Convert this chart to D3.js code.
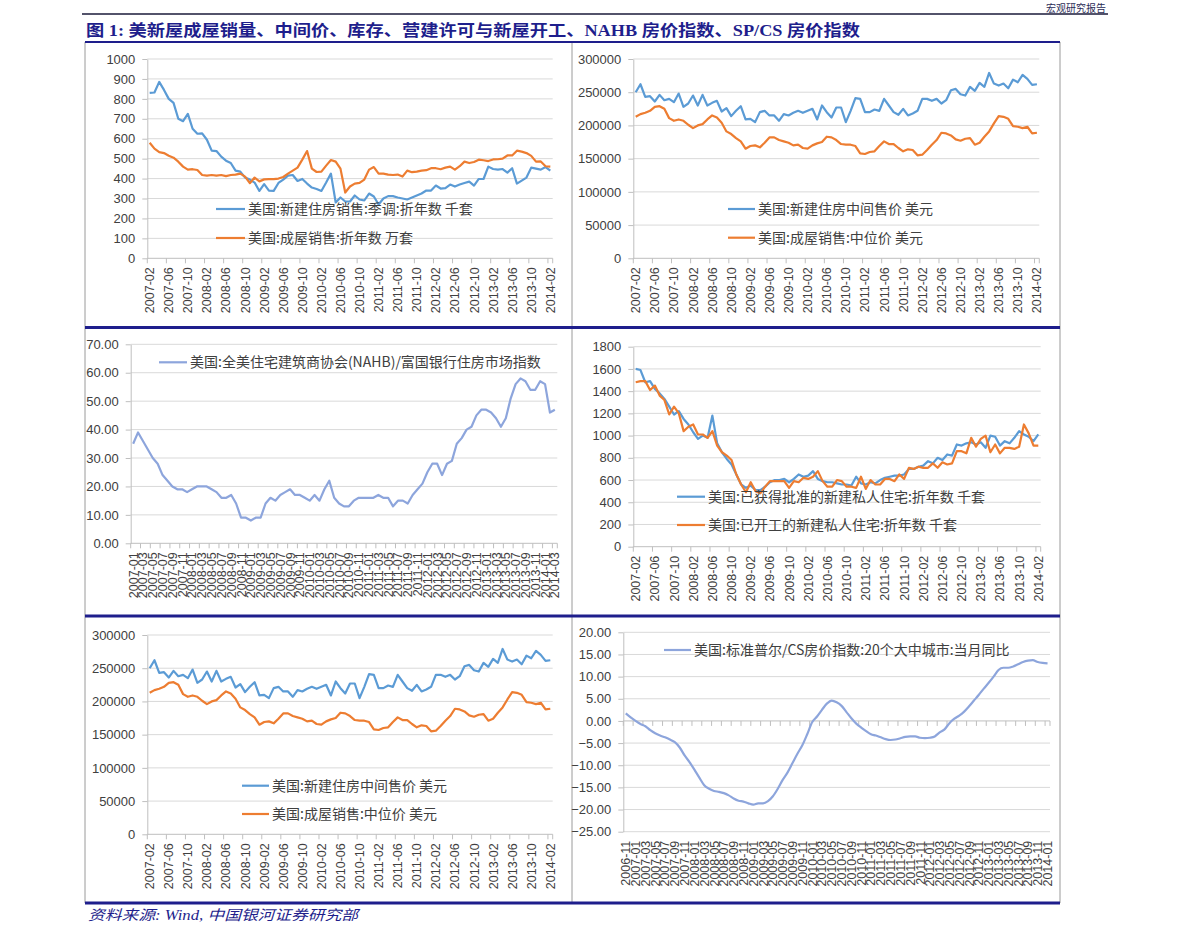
<!DOCTYPE html>
<html>
<head>
<meta charset="utf-8">
<script src="https://cdn.jsdelivr.net/npm/d3@7"></script>
<style>
  body { margin: 0; background: #fff; }
  svg { display: block; }
</style>
</head>
<body>
<svg id="page" width="1191" height="943"></svg>
<script>
'use strict';

// ---- data ----
// 2007-02 .. 2014-02, monthly
const NEW_HOME_SALES = [
  830, 832, 885, 845, 800, 780, 700, 688, 725, 650,
  625, 627, 595, 540, 538, 510, 490, 478, 440, 435,
  405, 395, 380, 338, 372, 340, 338, 378, 395, 415,
  418, 388, 398, 375, 355, 348, 338, 380, 425, 280,
  305, 285, 285, 315, 295, 290, 325, 310, 270, 300,
  312, 312, 305, 300, 295, 305, 315, 325, 340, 340,
  365, 350, 352, 370, 360, 370, 378, 385, 365, 398,
  398, 460, 448, 445, 448, 430, 452, 375, 390, 405,
  455, 450, 445, 458, 440
];
const EXISTING_HOME_SALES = [
  580, 550, 533, 528, 515, 505, 485, 460, 445, 447,
  443, 418, 415, 418, 415, 418, 412, 418, 420, 425,
  410, 377, 405, 386, 396, 397, 397, 400, 408, 425,
  440, 455, 495, 538, 450, 433, 435, 465, 493, 485,
  450, 330, 360, 375, 378, 395, 445, 458, 425, 425,
  420, 418, 420, 410, 440, 432, 435, 440, 442, 452,
  452, 447, 455, 460, 445, 462, 485, 478, 483, 495,
  492, 488, 496, 497, 500, 516, 516, 540, 535, 528,
  514, 485, 486, 462, 460
];
const NEW_HOME_PRICE = [
  250000, 262000, 243000, 244000, 236000, 246000, 238000, 240000, 235000, 248000,
  228000, 233000, 245000, 230000, 246000, 230000, 234000, 237000, 221000, 226000,
  214000, 222000, 229000, 209000, 210000, 205000, 220000, 222000, 215000, 215000,
  207000, 217000, 215000, 219000, 222000, 219000, 222000, 225000, 209000, 230000,
  220000, 212000, 227000, 227000, 205000, 222000, 241000, 240000, 220000, 220000,
  224000, 222000, 240000, 230000, 220000, 216000, 225000, 215000, 218000, 222000,
  240000, 240000, 237000, 240000, 233000, 238000, 253000, 255000, 247000, 245000,
  258000, 252000, 264000, 258000, 279000, 263000, 260000, 263000, 256000, 269000,
  265000, 276000, 270000, 261000, 262000
];
const EXISTING_HOME_PRICE = [
  213000, 217000, 219000, 222000, 228000, 229000, 225000, 211000, 207000, 209000,
  207000, 201000, 196000, 200000, 202000, 209000, 215000, 212000, 204000, 191000,
  187000, 181000, 176000, 165000, 169000, 170000, 167000, 174000, 182000, 182000,
  178000, 176000, 174000, 170000, 171000, 166000, 165000, 170000, 173000, 175000,
  183000, 182000, 178000, 172000, 171000, 171000, 169000, 158000, 157000, 160000,
  161000, 169000, 176000, 172000, 172000, 166000, 161000, 164000, 163000, 155000,
  156000, 163000, 171000, 178000, 189000, 188000, 185000, 179000, 177000, 180000,
  181000, 171000, 174000, 183000, 191000, 203000, 214000, 213000, 210000, 199000,
  198000, 196000, 198000, 188000, 189000
];
const PERMITS = [
  1600, 1590, 1480, 1490, 1420, 1380, 1330, 1260, 1190, 1220,
  1150, 1100, 1030, 970, 1000, 980, 1180, 930, 850, 790,
  740, 650, 560, 530, 550, 510, 510, 540, 580, 600,
  600, 610, 580, 610, 650, 630, 640, 680, 610, 590,
  580, 580, 570, 560, 560, 550, 630, 570, 560, 580,
  570, 600, 620, 630, 640, 640, 650, 700, 700, 720,
  730, 770, 750, 800, 780, 830, 820, 920, 910, 930,
  940, 920, 940, 890, 1000, 990, 910, 950, 930, 980,
  1040, 1010, 990, 950, 1010
];
const STARTS = [
  1480, 1490, 1490, 1410, 1450, 1360, 1320, 1190, 1260, 1200,
  1040, 1080, 1100, 1010, 1010, 980, 1040, 910, 850, 820,
  780, 650, 560, 490, 580, 500, 480, 540, 590, 590,
  590, 590, 530, 590, 580, 620, 610, 630, 680, 590,
  540, 540, 600, 590, 540, 540, 530, 630, 520, 600,
  560, 560, 610, 610, 590, 650, 610, 710, 700, 720,
  710, 710, 750, 710, 760, 740, 750, 860, 860, 840,
  980, 900, 970, 1000, 850, 920, 840, 890, 890, 880,
  900, 1100, 1020, 910, 910
];
// 2007-01 .. 2014-03
const NAHB = [
  35, 39, 36, 33, 30, 28, 24, 22, 20, 19, 19, 18,
  19, 20, 20, 20, 19, 18, 16, 16, 17, 14, 9, 9,
  8, 9, 9, 14, 16, 15, 17, 18, 19, 17, 17, 16,
  15, 17, 15, 19, 22, 16, 14, 13, 13, 15, 16, 16,
  16, 16, 17, 16, 16, 13, 15, 15, 14, 17, 19, 21,
  25, 28, 28, 24, 28, 29, 35, 37, 40, 41, 45, 47,
  47, 46, 44, 41, 44, 51, 56, 58, 57, 54, 54, 57,
  56, 46, 47
];
// 2006-11 .. 2014-01
const CS20_YOY = [
  1.7, 0.8, 0.0, -0.7, -1.2, -2.1, -2.8, -3.3, -3.7, -4.2,
  -4.8, -6.0, -7.8, -9.3, -11.0, -12.8, -14.5, -15.3, -15.8, -16.0,
  -16.3, -16.8, -17.5, -18.0, -18.2, -18.6, -18.9, -18.6, -18.6, -18.1,
  -17.0, -15.3, -13.3, -11.6, -9.5, -7.4, -5.5, -3.0, -0.3, 1.0,
  2.5, 3.9, 4.6, 4.2, 3.4, 2.0, 0.6, -0.6, -1.5, -2.3,
  -3.0, -3.3, -3.7, -4.1, -4.3, -4.2, -3.9, -3.6, -3.5, -3.5,
  -3.8, -3.9, -3.8, -3.5, -2.6, -1.9, -0.5, 0.5, 1.2, 2.1,
  3.3, 4.6, 5.9, 7.3, 8.6, 10.0, 11.5, 12.0, 12.0, 12.3,
  12.8, 13.3, 13.6, 13.7, 13.3, 13.1, 13.0
];

const LEGEND_SALES = ['美国:新建住房销售:季调:折年数 千套', '美国:成屋销售:折年数 万套'];
const LEGEND_PRICE = ['美国:新建住房中间售价 美元', '美国:成屋销售:中位价 美元'];
const LEGEND_NAHB = ['美国:全美住宅建筑商协会(NAHB)/富国银行住房市场指数'];
const LEGEND_BUILD = ['美国:已获得批准的新建私人住宅:折年数 千套', '美国:已开工的新建私人住宅:折年数 千套'];
const LEGEND_CS = ['美国:标准普尔/CS房价指数:20个大中城市:当月同比'];

const TITLE = '图 1:  美新屋成屋销量、中间价、库存、营建许可与新屋开工、NAHB 房价指数、SP/CS 房价指数';
const SOURCE = '资料来源: Wind, 中国银河证券研究部';
const HEADER = '宏观研究报告';

function months(year, month, count) {
  const out = [];
  for (let k = 0; k < count; k++) {
    const m = month - 1 + k;
    const yy = year + Math.floor(m / 12);
    const mm = (m % 12) + 1;
    out.push(`${yy}-${String(mm).padStart(2, '0')}`);
  }
  return out;
}

const CATS_A = months(2007, 2, 85);
const CATS_B = months(2007, 1, 87);
const CATS_C = months(2006, 11, 87);

const BLUE = '#5B9BD5';
const ORANGE = '#ED7D31';
const LAVENDER = '#8DA5DC';
const NAVY = '#1E1E8C';
const TEXT = '#404040';
const GRID = '#D9D9D9';
const AXIS = '#BFBFBF';

const fmtInt = d3.format('d');
const fmt2 = d3.format('.2f');

const PANELS = [
  { x0: 147.3, x1: 552.7, y0: 59, y1: 258.3, domain: [0, 1000], step: 100, fmt: fmtInt,
    cats: CATS_A, every: 4, series: [NEW_HOME_SALES, EXISTING_HOME_SALES], colors: [BLUE, ORANGE],
    legend: LEGEND_SALES, lx: 216, lw: 29, ly: [209, 238] },
  { x0: 633.3, x1: 1039.3, y0: 59, y1: 258.3, domain: [0, 300000], step: 50000, fmt: fmtInt,
    cats: CATS_A, every: 4, series: [NEW_HOME_PRICE, EXISTING_HOME_PRICE], colors: [BLUE, ORANGE],
    legend: LEGEND_PRICE, lx: 728, lw: 27, ly: [209, 237.7] },
  { x0: 130.7, x1: 557.3, y0: 344.3, y1: 543.3, domain: [0, 70], step: 10, fmt: fmt2,
    cats: CATS_B, every: 2, series: [NAHB], colors: [LAVENDER],
    legend: LEGEND_NAHB, lx: 159, lw: 28, ly: [362.3] },
  { x0: 633.3, x1: 1040.7, y0: 346.7, y1: 546.7, domain: [0, 1800], step: 200, fmt: fmtInt,
    cats: CATS_A, every: 4, series: [PERMITS, STARTS], colors: [BLUE, ORANGE],
    legend: LEGEND_BUILD, lx: 677, lw: 28, ly: [496.7, 525] },
  { x0: 147.3, x1: 552.7, y0: 635, y1: 834.3, domain: [0, 300000], step: 50000, fmt: fmtInt,
    cats: CATS_A, every: 4, series: [NEW_HOME_PRICE, EXISTING_HOME_PRICE], colors: [BLUE, ORANGE],
    legend: LEGEND_PRICE, lx: 242, lw: 27, ly: [785.7, 814] },
  { x0: 623.3, x1: 1050, y0: 632.3, y1: 831.7, domain: [-25, 20], step: 5, fmt: fmt2,
    cats: CATS_C, every: 2, series: [CS20_YOY], colors: [LAVENDER], smooth: true,
    legend: LEGEND_CS, lx: 664, lw: 27, ly: [650] },
];

const svg = d3.select('#page');

function drawFrame() {
  // running header, kept small so it fits above the top rule
  svg.append('text')
    .attr('x', 1106).attr('y', 12).attr('text-anchor', 'end')
    .attr('font-family', '"Noto Sans CJK SC"').attr('font-size', 10)
    .attr('fill', '#2a2a55').text(HEADER);

  svg.append('line').attr('x1', 82).attr('x2', 1108).attr('y1', 14).attr('y2', 14)
    .attr('stroke', '#1a1a3a').attr('stroke-width', 1.5);

  svg.append('text')
    .attr('x', 86).attr('y', 36)
    .attr('font-family', '"Liberation Serif", "Noto Sans CJK SC"')
    .attr('font-weight', 'bold').attr('font-size', 16)
    .attr('fill', NAVY)
    .attr('textLength', 774).attr('lengthAdjust', 'spacingAndGlyphs')
    .text(TITLE);

  // panel borders
  [85, 572, 1060].forEach(xx => {
    svg.append('line').attr('x1', xx).attr('x2', xx).attr('y1', 42).attr('y2', 903)
      .attr('stroke', '#9a9a9a').attr('stroke-width', 1);
  });

  [42, 327.5, 616, 903].forEach((yy, i) => {
    svg.append('line').attr('x1', 85).attr('x2', 1060).attr('y1', yy).attr('y2', yy)
      .attr('stroke', NAVY).attr('stroke-width', i === 0 ? 2 : 3);
  });

  svg.append('text')
    .attr('x', 88).attr('y', 920)
    .attr('font-family', '"Liberation Serif", "Noto Sans CJK SC"')
    .attr('font-style', 'italic').attr('font-size', 14)
    .attr('fill', NAVY)
    .attr('textLength', 270).attr('lengthAdjust', 'spacingAndGlyphs')
    .text(SOURCE);
}

function drawPanel(p) {
  const g = svg.append('g');
  const x = d3.scaleBand().domain(p.cats).range([p.x0, p.x1]);
  const y = d3.scaleLinear().domain(p.domain).range([p.y1, p.y0]);
  const bw = x.bandwidth();
  const ticks = d3.range(p.domain[0], p.domain[1] + p.step / 2, p.step);
  const zero = y(Math.max(0, p.domain[0]));

  // gridlines
  g.append('g').selectAll('line').data(ticks.filter(t => t !== 0)).join('line')
    .attr('x1', p.x0).attr('x2', p.x1)
    .attr('y1', d => y(d)).attr('y2', d => y(d))
    .attr('stroke', GRID).attr('stroke-width', 1);

  // y axis
  const ya = g.append('g').attr('transform', `translate(${p.x0},0)`)
    .call(d3.axisLeft(y).tickValues(ticks).tickFormat(p.fmt).tickSize(5).tickSizeOuter(0).tickPadding(7));
  ya.select('.domain').attr('stroke', AXIS);
  ya.selectAll('.tick line').attr('stroke', AXIS);
  ya.selectAll('text').attr('fill', TEXT).attr('font-size', 13)
    .attr('font-family', '"Liberation Sans", Arial, sans-serif');

  // x axis line and tick marks at category boundaries
  g.append('line').attr('x1', p.x0).attr('x2', p.x1).attr('y1', zero).attr('y2', zero)
    .attr('stroke', AXIS).attr('stroke-width', 1);
  const bounds = d3.range(0, p.cats.length + 1, p.every);
  if (bounds[bounds.length - 1] !== p.cats.length) bounds.push(p.cats.length);
  g.append('g').selectAll('line').data(bounds).join('line')
    .attr('x1', i => p.x0 + i * bw).attr('x2', i => p.x0 + i * bw)
    .attr('y1', zero).attr('y2', zero + 5)
    .attr('stroke', AXIS);

  // category labels
  const shown = p.cats.filter((c, i) => i % p.every === 0);
  const xa = g.append('g').attr('transform', `translate(0,${p.y1})`)
    .call(d3.axisBottom(x).tickValues(shown).tickSize(0).tickPadding(0));
  xa.select('.domain').remove();
  xa.selectAll('text')
    .attr('transform', 'rotate(-90)')
    .attr('text-anchor', 'end')
    .attr('x', -9).attr('y', 0).attr('dy', '0.36em')
    .attr('fill', TEXT).attr('font-size', 12.5)
    .attr('font-family', '"Liberation Sans", Arial, sans-serif');

  // series
  const line = d3.line()
    .x((d, i) => x(p.cats[i]) + bw / 2)
    .y(d => y(d))
    .curve(p.smooth ? d3.curveMonotoneX : d3.curveLinear);

  p.series.forEach((s, k) => {
    g.append('path').datum(s)
      .attr('d', line)
      .attr('fill', 'none')
      .attr('stroke', p.colors[k])
      .attr('stroke-width', 2.2)
      .attr('stroke-linejoin', 'round');
  });

  // legend
  p.legend.forEach((label, k) => {
    const ly = p.ly[k];
    g.append('line').attr('x1', p.lx).attr('x2', p.lx + p.lw).attr('y1', ly).attr('y2', ly)
      .attr('stroke', p.colors[k]).attr('stroke-width', 2.2);
    g.append('text').attr('x', p.lx + p.lw + 3).attr('y', ly).attr('dy', '0.36em')
      .attr('font-family', '"Noto Sans CJK SC", sans-serif').attr('font-size', 14)
      .attr('fill', TEXT).text(label);
  });
}

drawFrame();
PANELS.forEach(drawPanel);
</script>
</body>
</html>
